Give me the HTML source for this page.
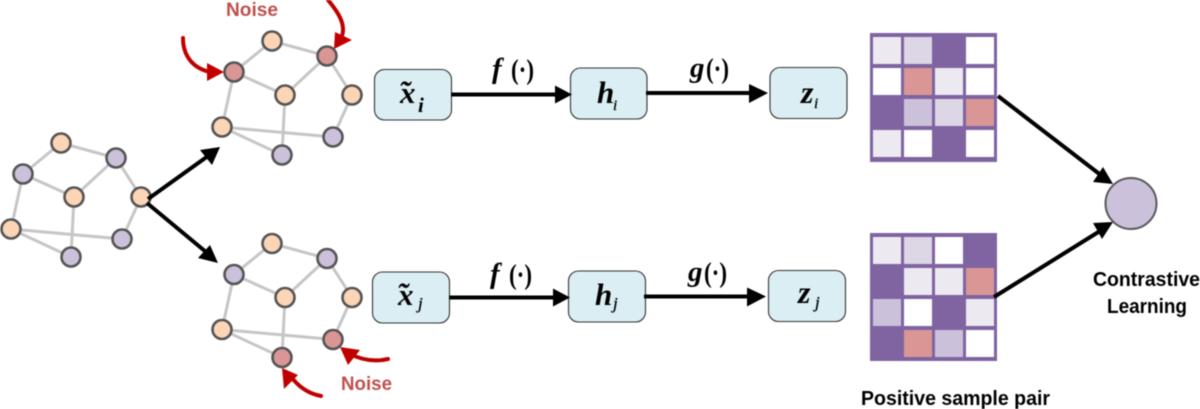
<!DOCTYPE html>
<html><head><meta charset="utf-8">
<style>
html,body{margin:0;padding:0;background:#fff;width:1200px;height:409px;overflow:hidden}
svg{display:block;filter:blur(.5px)}
.e{stroke:#c6c6c6;stroke-width:3;fill:none}
.n{stroke:#555;stroke-width:2.6}
.p{fill:#fbd5b5}.u{fill:#ccc1da}.r{fill:#d99694}
.b{fill:#daeef3;stroke:#333;stroke-width:1.1}
.k{stroke:#000;stroke-width:4;fill:none}
.rc{stroke:#c00000;stroke-width:4;fill:none;stroke-linecap:round}
.m{font-family:"Liberation Serif",serif;font-weight:bold;font-style:italic;fill:#000}
.q{font-family:"Liberation Serif",serif;font-style:italic;fill:#000;stroke:#000;stroke-width:.3}
.o{font-family:"Liberation Serif",serif;font-weight:bold;fill:#000;font-size:28px}
.s{font-family:"Liberation Sans",sans-serif;font-weight:bold;fill:#000;font-size:20px}
.ns{font-family:"Liberation Sans",sans-serif;font-weight:bold;fill:#c0504d;font-size:19px}
</style></head><body>
<svg width="1200" height="409" viewBox="0 0 1200 409" xmlns="http://www.w3.org/2000/svg">
<defs>
<g id="edges">
<path class="e" d="M234 72L272 41L327 56L285 95L234 72L222 127L333 137L352 95L327 56M222 127L282 155L285 95"/>
</g>
</defs>
<!-- left graph -->
<g transform="translate(-211,102)">
<use href="#edges"/>
<circle class="n u" cx="234" cy="72" r="9.5"/><circle class="n p" cx="272" cy="41" r="9.5"/><circle class="n u" cx="327" cy="56" r="9.5"/><circle class="n p" cx="285" cy="95" r="9.5"/><circle class="n p" cx="352" cy="95" r="9.5"/><circle class="n p" cx="222" cy="127" r="9.5"/><circle class="n u" cx="333" cy="137" r="9.5"/><circle class="n u" cx="282" cy="155" r="9.5"/>
</g>
<!-- top graph -->
<use href="#edges"/>
<circle class="n r" cx="234" cy="72" r="9.5"/><circle class="n p" cx="272" cy="41" r="9.5"/><circle class="n r" cx="327" cy="56" r="9.5"/><circle class="n p" cx="285" cy="95" r="9.5"/><circle class="n p" cx="352" cy="95" r="9.5"/><circle class="n p" cx="222" cy="127" r="9.5"/><circle class="n u" cx="333" cy="137" r="9.5"/><circle class="n u" cx="282" cy="155" r="9.5"/>
<!-- bottom graph -->
<g transform="translate(0,202.5)">
<use href="#edges"/>
<circle class="n u" cx="234" cy="72" r="9.5"/><circle class="n p" cx="272" cy="41" r="9.5"/><circle class="n u" cx="327" cy="56" r="9.5"/><circle class="n p" cx="285" cy="95" r="9.5"/><circle class="n p" cx="352" cy="95" r="9.5"/><circle class="n p" cx="222" cy="127" r="9.5"/><circle class="n r" cx="333" cy="137" r="9.5"/><circle class="n r" cx="282" cy="155" r="9.5"/>
</g>
<!-- black branch arrows -->
<path class="k" d="M148 199L208 156"/><polygon points="220,147 200,150 212,165"/>
<path class="k" d="M147 203L206 252"/><polygon points="218,263 210,245 198,258"/>
<!-- red arrows -->
<path class="rc" d="M183 38C183 55 192 68 210 72"/><polygon fill="#c00000" points="224,72 207,63 207,81"/>
<path class="rc" d="M328 0C338 12 346 24 342 36"/><polygon fill="#c00000" points="334,49 335,32 352,40"/>
<path class="rc" d="M388 359C375 362 362 360 350 354"/><polygon fill="#c00000" points="340,347 360,350 348,365"/>
<path class="rc" d="M321 396C310 394 300 388 292 378"/><polygon fill="#c00000" points="282,368 298,375 284,389"/>
<text class="ns" x="226" y="16" textLength="52" lengthAdjust="spacingAndGlyphs">Noise</text>
<text class="ns" x="341" y="390" textLength="51" lengthAdjust="spacingAndGlyphs">Noise</text>
<!-- boxes top -->
<rect class="b" x="374.5" y="69.5" width="77" height="50.5" rx="10"/>
<rect class="b" x="570.5" y="68" width="76.5" height="51" rx="10"/>
<rect class="b" x="770" y="67.5" width="77" height="51" rx="10"/>
<!-- boxes bottom -->
<rect class="b" x="372.5" y="272" width="77" height="51" rx="10"/>
<rect class="b" x="568.5" y="271" width="77" height="51" rx="10"/>
<rect class="b" x="768.5" y="270.5" width="77" height="51" rx="10"/>
<!-- flow arrows -->
<path class="k" d="M451 94.5H556"/><polygon points="572,94.5 555,85.5 555,103.5"/>
<path class="k" d="M646 93H750"/><polygon points="768,93 749,84 749,103"/>
<path class="k" d="M449 297.5H554"/><polygon points="570,297.5 553,288.5 553,306.5"/>
<path class="k" d="M644 296.5H748"/><polygon points="766,296.5 747,287.5 747,306.5"/>
<!-- box labels top -->
<text class="m" x="400" y="103" font-size="31">x</text><text class="m" x="399" y="103" font-size="32">˜</text><text class="m" x="418" y="112" font-size="21">i</text>
<text class="m" x="597" y="103" font-size="31">h</text><text class="q" x="613" y="110" font-size="15">i</text>
<text class="m" x="801" y="103" font-size="32">z</text><text class="q" x="814" y="108" font-size="15">i</text>
<!-- box labels bottom -->
<text class="m" x="398" y="305" font-size="31">x</text><text class="m" x="397" y="305" font-size="32">˜</text><text class="q" x="418" y="309" font-size="17">j</text>
<text class="m" x="595" y="305" font-size="31">h</text><text class="q" x="613" y="309" font-size="17">j</text>
<text class="m" x="798" y="303" font-size="32">z</text><text class="q" x="815" y="308" font-size="17">j</text>
<!-- function labels -->
<text class="m" x="492" y="78" font-size="29">f</text><text class="o" x="511" y="79" textLength="23" lengthAdjust="spacingAndGlyphs">(·)</text>
<text class="m" x="690" y="77" font-size="29">g</text><text class="o" x="706" y="78" textLength="23" lengthAdjust="spacingAndGlyphs">(·)</text>
<text class="m" x="490" y="283" font-size="29">f</text><text class="o" x="509" y="284" textLength="23" lengthAdjust="spacingAndGlyphs">(·)</text>
<text class="m" x="688" y="281" font-size="29">g</text><text class="o" x="704" y="282" textLength="23" lengthAdjust="spacingAndGlyphs">(·)</text>
<!-- top matrix -->
<rect x="870" y="33" width="127" height="129" fill="#8064a2"/>
<g>
<rect x="873" y="37" width="28" height="27" fill="#ece9f1"/><rect x="904" y="37" width="28" height="27" fill="#dcd6e5"/><rect x="966" y="37" width="28" height="27" fill="#fff"/>
<rect x="873" y="68" width="28" height="27" fill="#fff"/><rect x="904" y="68" width="28" height="27" fill="#d99694"/><rect x="935" y="68" width="28" height="27" fill="#ece9f1"/><rect x="966" y="68" width="28" height="27" fill="#fff"/>
<rect x="904" y="99" width="28" height="27" fill="#ccc1da"/><rect x="935" y="99" width="28" height="27" fill="#dcd6e5"/><rect x="966" y="99" width="28" height="27" fill="#d99694"/>
<rect x="873" y="130" width="28" height="27" fill="#ece9f1"/><rect x="904" y="130" width="28" height="27" fill="#fff"/><rect x="966" y="130" width="28" height="27" fill="#fff"/>
</g>
<!-- bottom matrix -->
<rect x="870" y="233" width="127" height="128" fill="#8064a2"/>
<g>
<rect x="873" y="237" width="28" height="27" fill="#ece9f1"/><rect x="904" y="237" width="28" height="27" fill="#dcd6e5"/><rect x="935" y="237" width="28" height="27" fill="#fff"/>
<rect x="904" y="268" width="28" height="27" fill="#ece9f1"/><rect x="935" y="268" width="28" height="27" fill="#ece9f1"/><rect x="966" y="268" width="28" height="27" fill="#d99694"/>
<rect x="873" y="299" width="28" height="27" fill="#ccc1da"/><rect x="904" y="299" width="28" height="27" fill="#fff"/><rect x="966" y="299" width="28" height="27" fill="#ece9f1"/>
<rect x="904" y="330" width="28" height="27" fill="#d99694"/><rect x="935" y="330" width="28" height="27" fill="#ccc1da"/><rect x="966" y="330" width="28" height="27" fill="#fff"/>
</g>
<!-- circle and arrows -->
<circle cx="1131" cy="203.5" r="25.5" fill="#ccc1da" stroke="#595959" stroke-width="2"/>
<path class="k" d="M998 96L1102 176"/><polygon points="1113,184 1103,167 1093,182"/>
<path class="k" d="M994 297L1100 231"/><polygon points="1113,222 1093,223 1102,239"/>
<!-- right labels -->
<text class="s" x="1093" y="286" textLength="107" lengthAdjust="spacingAndGlyphs">Contrastive</text>
<text class="s" x="1107" y="313" textLength="80" lengthAdjust="spacingAndGlyphs">Learning</text>
<text class="s" x="861" y="405" textLength="189" lengthAdjust="spacingAndGlyphs">Positive sample pair</text>
</svg>
</body></html>
